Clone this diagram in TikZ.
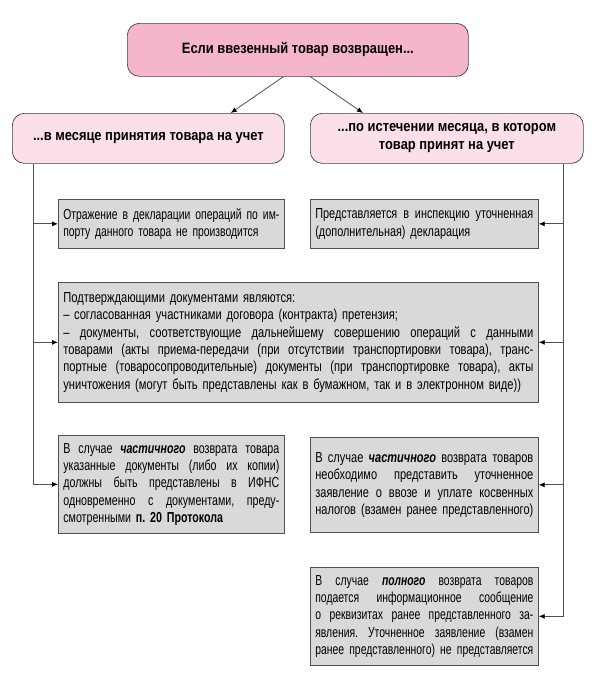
\documentclass[tikz,border=0pt]{standalone}
\usepackage{fontspec}
\setmainfont[FakeStretch=0.715]{Liberation Sans}
\newfontfamily\hdfont[FakeStretch=0.86]{Liberation Sans}
\newfontfamily\fwide[FakeStretch=0.77]{Liberation Sans}
\newfontfamily\fmidA[FakeStretch=0.75]{Liberation Sans}
\newfontfamily\fmidB[FakeStretch=0.735]{Liberation Sans}
\newfontfamily\fmidC[FakeStretch=0.76]{Liberation Sans}
\usetikzlibrary{arrows.meta}
\definecolor{pinkA}{RGB}{245,182,203}
\definecolor{pinkB}{RGB}{251,223,233}
\definecolor{grayF}{RGB}{217,217,217}
\definecolor{lineC}{RGB}{80,80,80}
\newlength{\jw}
\newcommand{\jl}[1]{\leavevmode{\spaceskip=0.2em plus 1fil\relax\hbox to \jw{#1}}\\}
\newcommand{\jlast}[1]{\leavevmode{\spaceskip=0.2em plus 1fil\relax\hbox to \jw{#1}}}
\newcommand{\bi}[1]{\textbf{\textit{#1}}}
\tikzset{
  pbox/.style={draw=black!75, line width=0.7pt, rounded corners=12pt, anchor=north west,
    font=\hdfont\fontsize{15}{18}\selectfont\bfseries, align=center, inner sep=0pt},
  gbox/.style={draw=lineC, fill=grayF, line width=0.7pt, anchor=north west,
    font=\fontsize{14.5}{17.4}\selectfont\frenchspacing, align=left, inner xsep=5pt, inner ysep=0pt,
    text width=#1, execute at begin node={\setlength{\jw}{#1}}},
  conn/.style={draw=lineC, line width=0.8pt},
  arr/.style={conn, -{Latex[length=6pt,width=5pt,color=black]}},
}
\begin{document}
\begin{tikzpicture}[x=1pt,y=-1pt]
\useasboundingbox (0,0) rectangle (600,678);
\node[pbox, fill=pinkA, minimum width=341pt, minimum height=53pt] (top) at (127,23)
  {Если ввезенный товар возвращен...};
\node[pbox, fill=pinkB, minimum width=272pt, minimum height=50pt] (lsub) at (12,113)
  {...в месяце принятия товара на учет};
\node[pbox, fill=pinkB, minimum width=273pt, minimum height=50pt] (rsub) at (310,113)
  {...по истечении месяца, в котором\\товар принят на учет};

\node[gbox=216pt, minimum height=49pt] (b1) at (58,199)
  {\jl{Отражение в декларации операций по им-}порту данного товара не производится};
\node[gbox=218pt, minimum height=49pt] (b2) at (310,199)
  {\fmidA\jl{Представляется в инспекцию уточненная}(дополнительная) декларация};
\node[gbox=470pt, minimum height=120pt] (b3) at (58,282)
  {\fwide Подтверждающими документами являются:\\
   –\hspace{4.5pt}согласованная участниками договора (контракта) претензия;\\
   \jl{– документы, соответствующие дальнейшему совершению операций с данными}%
   \jl{товарами (акты приема-передачи (при отсутствии транспортировки товара), транс-}%
   \jl{портные (товаросопроводительные) документы (при транспортировке товара), акты}%
   \mbox{уничтожения (могут быть представлены как в бумажном, так и в электронном виде))}};
\node[gbox=216pt, minimum height=98pt] (b4) at (58,435)
  {\fmidB\jl{В случае \bi{частичного} возврата товара}%
   \jl{указанные документы (либо их копии)}%
   \jl{должны быть представлены в ИФНС}%
   \jl{одновременно с документами, преду-}%
   смотренными \textbf{п. 20 Протокола}};
\node[gbox=218pt, minimum height=95pt] (b5) at (310,437)
  {\fmidC\jl{В случае \bi{частичного} возврата товаров}%
   \jl{необходимо представить уточненное}%
   \jl{заявление о ввозе и уплате косвенных}%
   \jlast{налогов (взамен ранее представленного)}};
\node[gbox=218pt, minimum height=98pt] (b6) at (310,567)
  {\jl{В случае \bi{полного} возврата товаров}%
   \jl{подается информационное сообщение}%
   \jl{о реквизитах ранее представленного за-}%
   \jl{явления. Уточненное заявление (взамен}%
   \jlast{ранее представленного) не представляется}};

\draw[arr] ([xshift=-14.5pt]top.south) -- ([xshift=-54pt]lsub.north east);
\draw[arr] ([xshift=12.5pt]top.south) -- ([xshift=53pt]rsub.north west);

\coordinate (tl) at ([xshift=21pt]lsub.south west);
\coordinate (tr) at ([xshift=-20pt]rsub.south east);
\draw[arr] (tl) |- (b4.west);
\draw[arr] (tl |- b1.west) -- (b1.west);
\draw[arr] (tl |- b3.west) -- (b3.west);
\draw[arr] (tr) |- (b6.east);
\draw[arr] (tr |- b2.east) -- (b2.east);
\draw[arr] (tr |- b3.east) -- (b3.east);
\draw[arr] (tr |- b5.east) -- (b5.east);
\end{tikzpicture}
\end{document}
